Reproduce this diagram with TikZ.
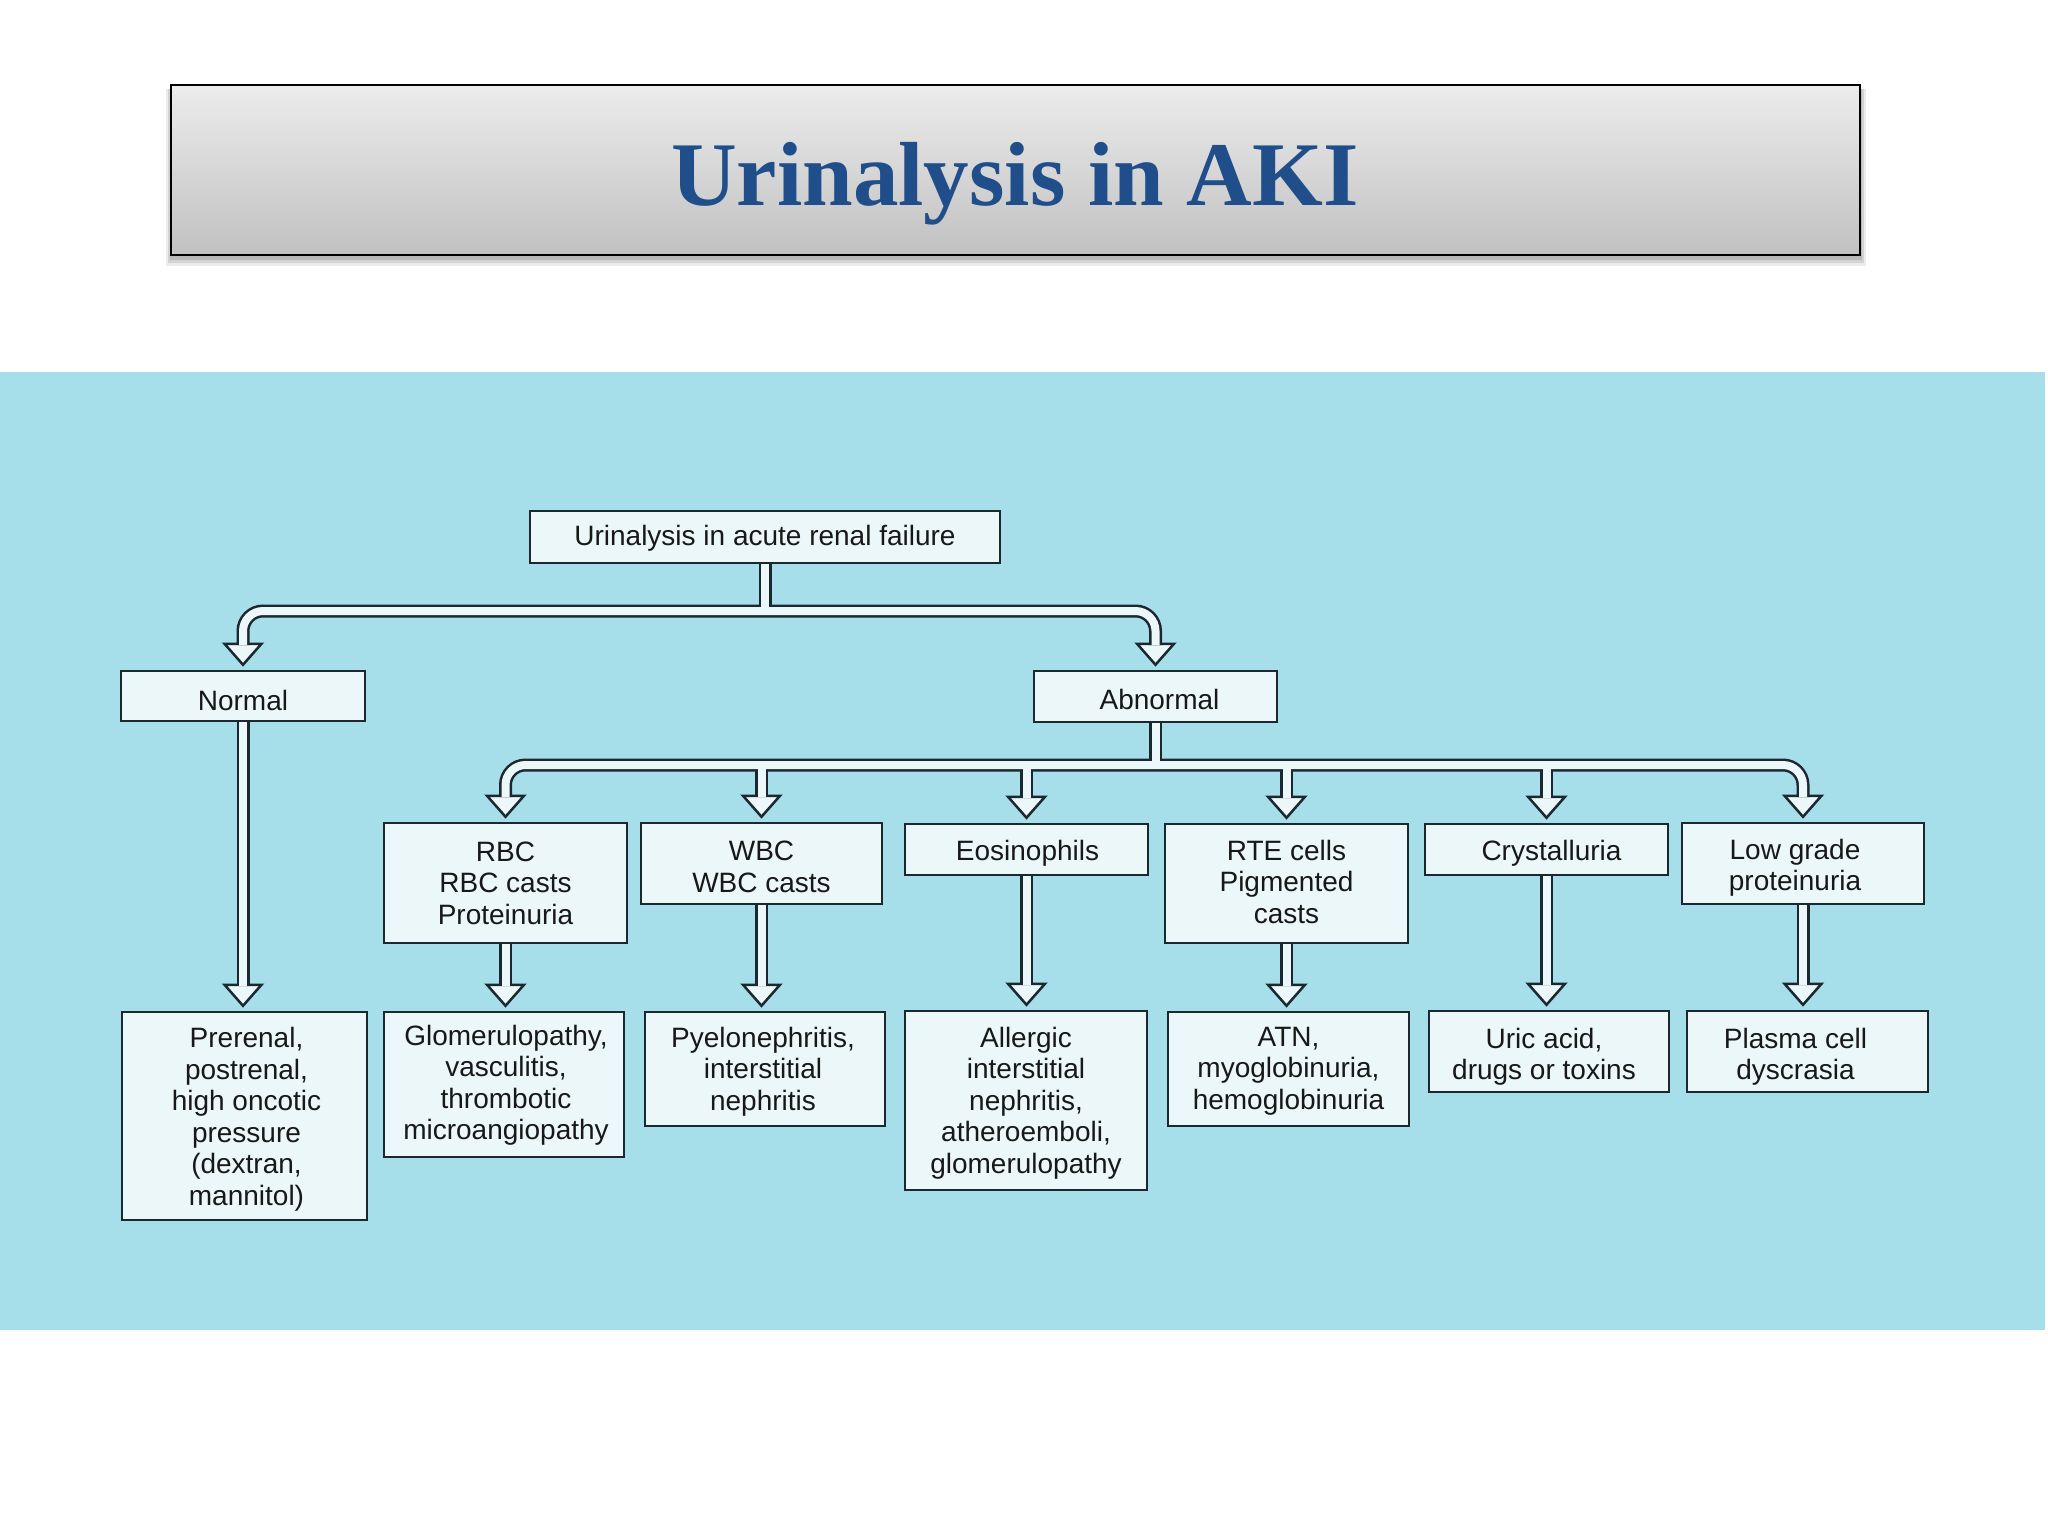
\documentclass[tikz,border=0pt]{standalone}
\usepackage{fontspec}
\setmainfont{Liberation Sans}
\newfontfamily\titlefont{Liberation Serif}
\usetikzlibrary{calc}
\definecolor{panel}{RGB}{166,223,234}
\definecolor{boxfill}{RGB}{236,247,250}
\definecolor{lineclr}{RGB}{28,40,48}
\definecolor{txtclr}{RGB}{24,24,24}
\definecolor{titleblue}{RGB}{31,78,138}
\definecolor{ttop}{RGB}{236,236,236}
\definecolor{tbot}{RGB}{193,193,193}
\pgfdeclarelayer{back}
\pgfdeclarelayer{mid}
\pgfsetlayers{back,mid,main}
\tikzset{
  boxframe/.style={draw=lineclr, line width=2.5pt, fill=boxfill, inner sep=0pt},
  boxtext/.style={align=center, inner sep=0pt, text=txtclr, font=\fontsize{28}{31.5}\selectfont},
  pipedark/.style={draw=lineclr, line width=13pt, rounded corners=20pt},
  pipelight/.style={draw=boxfill, line width=8pt, rounded corners=20pt},
  arrowhd/.style={draw=lineclr, fill=boxfill, line width=2.5pt, line join=miter}
}
% \bx{name}{x1}{y1}{x2}{y2}{dx,dy}{text}
\newcommand\bx[7]{%
  \node[boxframe, minimum width={#4-#2}, minimum height={#5-#3}] (#1) at ({(#2+#4)/2},{(#3+#5)/2}) {};
  \node[boxtext] (#1-t) at ($(#1.center)+(#6)$) {#7};}
\newcommand\tri[1]{\draw[arrowhd] ($#1+(0,-5)$) -- ++(-18.5,-21) -- ++(37,0) -- cycle;}
\newcommand\pipes[1]{%
  % first level
  \draw[#1] ($(normal.north)+(0,-24.7)$) -- (normal.north |- bus1) -- (abnormal.north |- bus1) -- ($(abnormal.north)+(0,-24.7)$);
  \draw[#1] (root.south) -- (root.south |- bus1);
  % second level
  \draw[#1] ($(rbc.north)+(0,-24.7)$) -- (rbc.north |- bus2) -- (low.north |- bus2) -- ($(low.north)+(0,-24.7)$);
  \draw[#1] (abnormal.south) -- (abnormal.south |- bus2);
  \draw[#1] (wbc.north |- bus2) -- ($(wbc.north)+(0,-24.7)$);
  \draw[#1] (eos.north |- bus2) -- ($(eos.north)+(0,-24.7)$);
  \draw[#1] (rte.north |- bus2) -- ($(rte.north)+(0,-24.7)$);
  \draw[#1] (cry.north |- bus2) -- ($(cry.north)+(0,-24.7)$);
  % third level
  \draw[#1] (normal.south) -- ($(normal.south |- pre.north)+(0,-24.7)$);
  \draw[#1] (rbc.south) -- ($(rbc.south |- glo.north)+(0,-24.7)$);
  \draw[#1] (wbc.south) -- ($(wbc.south |- pye.north)+(0,-24.7)$);
  \draw[#1] (eos.south) -- ($(eos.south |- all.north)+(0,-24.7)$);
  \draw[#1] (rte.south) -- ($(rte.south |- atn.north)+(0,-24.7)$);
  \draw[#1] (cry.south) -- ($(cry.south |- uric.north)+(0,-24.7)$);
  \draw[#1] (low.south) -- ($(low.south |- pla.north)+(0,-24.7)$);
}
\begin{document}
\begin{tikzpicture}[x=1pt,y=-1pt]
\useasboundingbox (0,0) rectangle (2048,1536);
\begin{pgfonlayer}{back}
  \fill[white] (0,0) rectangle (2048,1536);
  \fill[panel] (0,372) rectangle (2045,1330);
  % title box with soft shadow
  \fill[black, opacity=0.08] (166,89) rectangle (1866,266);
  \fill[black, opacity=0.10] (168,89) rectangle (1864,263);
  \fill[black, opacity=0.12] (170,89) rectangle (1862,260);
  \shade[top color=ttop, bottom color=tbot] (171,85) rectangle (1860,255);
  \draw[black, line width=2.5pt] (171,85) rectangle (1860,255);
\end{pgfonlayer}
\node[anchor=base, text=titleblue, font=\titlefont\bfseries\fontsize{91}{100}\selectfont, inner sep=0pt] (title) at (1015,205) {Urinalysis in AKI};

\coordinate (bus1) at (0,611);
\coordinate (bus2) at (0,765);

\bx{root}{530}{511}{1000}{563}{0,1.3}{Urinalysis in acute renal failure}
\bx{normal}{121}{671}{365}{721}{0,4}{Normal}
\bx{abnormal}{1034}{671}{1277}{722}{4,2.6}{Abnormal}

\bx{rbc}{384}{823}{627}{943}{0,0}{RBC\\RBC casts\\Proteinuria}
\bx{wbc}{641}{823}{882}{904}{0,3.3}{WBC\\WBC casts}
\bx{eos}{905}{824}{1148}{875}{1,4}{Eosinophils}
\bx{rte}{1165}{824}{1408}{943}{0,-2}{RTE cells\\Pigmented\\casts}
\bx{cry}{1425}{824}{1668}{875}{5,4}{Crystalluria}
\bx{low}{1682}{823}{1924}{904}{-8,4.5}{Low grade\\proteinuria}

\bx{pre}{122}{1012}{367}{1220}{2,3}{Prerenal,\\postrenal,\\high oncotic\\pressure\\(dextran,\\mannitol)}
\bx{glo}{384}{1012}{624}{1157}{2,0.5}{Glomerulopathy,\\vasculitis,\\thrombotic\\microangiopathy}
\bx{pye}{645}{1012}{885}{1126}{-2,2.6}{Pyelonephritis,\\interstitial\\nephritis}
\bx{all}{905}{1011}{1147}{1190}{0,2.6}{Allergic\\interstitial\\nephritis,\\atheroemboli,\\glomerulopathy}
\bx{atn}{1168}{1012}{1409}{1126}{0,2}{ATN,\\myoglobinuria,\\hemoglobinuria}
\bx{uric}{1429}{1011}{1669}{1092}{-5,5}{Uric acid,\\drugs or toxins}
\bx{pla}{1687}{1011}{1928}{1092}{-12,5}{Plasma cell\\dyscrasia}

\begin{pgfonlayer}{mid}
  \tri{(normal.north)}
  \tri{(abnormal.north)}
  \tri{(rbc.north)}
  \tri{(wbc.north)}
  \tri{(eos.north)}
  \tri{(rte.north)}
  \tri{(cry.north)}
  \tri{(low.north)}
  \tri{(normal.south |- pre.north)}
  \tri{(rbc.south |- glo.north)}
  \tri{(wbc.south |- pye.north)}
  \tri{(eos.south |- all.north)}
  \tri{(rte.south |- atn.north)}
  \tri{(cry.south |- uric.north)}
  \tri{(low.south |- pla.north)}
  \pipes{pipedark}
  \pipes{pipelight}
\end{pgfonlayer}
\end{tikzpicture}
\end{document}
